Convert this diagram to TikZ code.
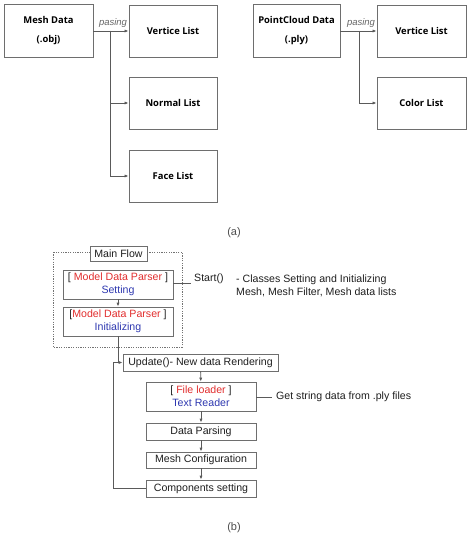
\documentclass[tikz,border=0pt]{standalone}
\usepackage{fontspec}
\setmainfont{Liberation Sans}
\newfontfamily\afont{Open Sans}
\usetikzlibrary{arrows.meta}
\definecolor{bordergray}{RGB}{110,110,110}
\definecolor{linegray}{RGB}{90,90,90}
\definecolor{txtred}{RGB}{225,45,45}
\definecolor{txtblue}{RGB}{45,55,175}
\definecolor{txtdark}{RGB}{30,30,30}
\begin{document}
\begin{tikzpicture}[x=1pt,y=-1pt,
  abox/.style={draw=bordergray, line width=0.9pt, inner sep=0pt, align=center,
    font=\afont\bfseries\fontsize{9.4}{19}\selectfont, text=black},
  bbox/.style={draw=bordergray, line width=0.8pt, inner sep=0pt, align=center,
    font=\fontsize{10.6}{13}\selectfont, text=txtdark},
  conn/.style={draw=linegray, line width=0.8pt},
  arr/.style={conn, -{Latex[length=4pt,width=3.2pt]}},
  btxt/.style={font=\fontsize{10.6}{13}\selectfont, text=txtdark, inner sep=0pt},
  lbl/.style={font=\fontsize{11}{13}\selectfont, text=black!70, inner sep=0pt}
]
\useasboundingbox (0,0) rectangle (475,540);
% ---------- part (a)
\node[abox, minimum width=89pt, minimum height=53pt] (mesh) at (48.5,30.5) {Mesh Data\\(.obj)};
\node[abox, minimum width=88pt, minimum height=52pt] (v1) at (173,31) {Vertice List};
\node[abox, minimum width=88pt, minimum height=52pt] (n1) at (173,103) {Normal List};
\node[abox, minimum width=88pt, minimum height=52pt] (f1) at (173,176) {Face List};
\node[abox, minimum width=87pt, minimum height=53pt] (pc) at (296.5,30.5) {PointCloud Data\\(.ply)};
\node[abox, minimum width=89pt, minimum height=52pt] (v2) at (421.5,31) {Vertice List};
\node[abox, minimum width=89pt, minimum height=52pt] (c2) at (421.5,103) {Color List};
\coordinate (t1) at (110,31);
\coordinate (t2) at (359,31);
\draw[arr] (mesh.east |- v1) -- (v1.west);
\draw[arr] (t1) |- (n1.west);
\draw[arr] (t1) |- (f1.west);
\draw[arr] (pc.east |- v2) -- (v2.west);
\draw[arr] (t2) |- (c2.west);
\node[font=\itshape\fontsize{9.5}{11}\selectfont, text=black!60, inner sep=0pt] (pas1) at (113,23) {pasing};
\node[font=\itshape\fontsize{9.5}{11}\selectfont, text=black!60, inner sep=0pt] (pas2) at (361,23) {pasing};
\node[lbl] (la) at (234,233) {(a)};
% ---------- part (b)
\draw[draw=black!55, line width=0.6pt, dash pattern=on 1.2pt off 1.2pt] (53,252) rectangle (182,347);
\node[bbox, fill=white, minimum width=57pt, minimum height=15pt] (mf) at (118.5,253.5) {Main Flow};
\node[bbox, minimum width=110pt, minimum height=29pt] (set) at (118,284.5) {[ \textcolor{txtred}{Model Data Parser} ]\\\textcolor{txtblue}{Setting}};
\node[bbox, minimum width=110pt, minimum height=29pt] (init) at (118,321.5) {[\textcolor{txtred}{Model Data Parser} ]\\\textcolor{txtblue}{Initializing}};
\node[bbox, minimum width=155pt, minimum height=17pt] (upd) at (200.5,362.5) {Update()- New data Rendering};
\node[bbox, minimum width=110pt, minimum height=29pt] (fl) at (201,396.5) {[ \textcolor{txtred}{File loader} ]\\\textcolor{txtblue}{Text Reader}};
\node[bbox, minimum width=110pt, minimum height=17pt] (dp) at (201,431.5) {Data Parsing};
\node[bbox, minimum width=110pt, minimum height=16pt] (mc) at (201,460) {Mesh Configuration};
\node[bbox, minimum width=110pt, minimum height=17pt] (cs) at (201,488.5) {Components setting};
\draw[arr] (set) -- (init);
\draw[arr] (upd) -- (fl);
\draw[arr] (fl) -- (dp);
\draw[arr] (dp) -- (mc);
\draw[arr] (mc) -- (cs);
\coordinate (lp) at (113,488.5);
\draw[conn] (init.south) -- (init.south |- upd.west);
\draw[arr] (cs.west) -- (cs.west -| lp) |- (upd.west);
\coordinate (st) at (191,283);
\draw[conn] (set.east |- st) -- (st);
\node[btxt, anchor=west] (start) at (194,279) {Start()};
\node[btxt, anchor=west, align=left] (desc) at (236,285.5) {- Classes Setting and Initializing\\Mesh, Mesh Filter, Mesh data lists};
\coordinate (gs) at (272,397);
\draw[conn] (fl.east |- gs) -- (gs);
\node[btxt, anchor=west] (get) at (276,397) {Get string data from .ply files};
\node[lbl] (lb) at (234,528) {(b)};
\end{tikzpicture}
\end{document}
